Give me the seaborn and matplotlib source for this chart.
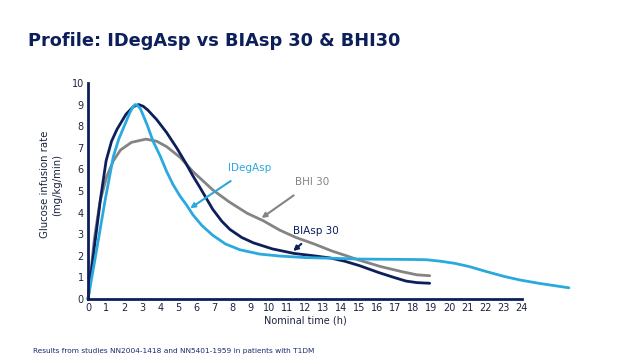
import matplotlib
matplotlib.use("Agg")
import matplotlib.pyplot as plt
import numpy as np
import pandas as pd
import seaborn as sns

# values (hours, mg/kg/min)
idegasp_t = [0, 0.5, 0.95, 1.4, 1.7, 2.05, 2.3, 2.45, 2.6, 2.75, 2.9, 3.25, 3.6, 4.0, 4.35,
             4.7, 5.1, 5.45, 5.8, 6.3, 6.9, 7.6, 8.4, 9.5, 10.6, 12, 13.75, 15, 16.5, 18,
             18.7, 19.5, 20.3, 21.1, 22, 23, 23.9, 25, 25.8, 26.6]
idegasp_v = [0, 2.4, 4.6, 6.6, 7.4, 8.1, 8.6, 8.85, 9.0, 8.95, 8.8, 8.1, 7.3, 6.6, 5.9,
             5.3, 4.75, 4.35, 3.9, 3.4, 2.95, 2.55, 2.28, 2.08, 1.99, 1.92, 1.88, 1.85, 1.84,
             1.83, 1.82, 1.75, 1.65, 1.5, 1.28, 1.05, 0.88, 0.72, 0.62, 0.52]

biasp_t = [0, 0.35, 0.7, 1.0, 1.3, 1.6, 2.1, 2.5, 2.8, 3.05, 3.3, 3.8, 4.35, 4.9, 5.4, 5.8,
           6.2, 6.9, 7.4, 7.85, 8.5, 9.15, 10.2, 11.4, 12.5, 13.4, 14.2, 15, 16.1, 17,
           17.6, 18.2, 18.9]
biasp_v = [0, 2.4, 4.7, 6.4, 7.3, 7.85, 8.55, 8.9, 9.0, 8.92, 8.75, 8.3, 7.7, 7.0, 6.3, 5.7,
           5.15, 4.15, 3.6, 3.22, 2.85, 2.6, 2.32, 2.11, 2.0, 1.9, 1.75, 1.55, 1.22, 0.98,
           0.83, 0.76, 0.73]

bhi_t = [0, 0.35, 0.66, 1.03, 1.4, 1.8, 2.4, 3.2, 3.8, 4.35, 5.1, 5.8, 6.9, 7.8, 8.8, 9.7,
         10.6, 11.5, 12.5, 13.5, 14.3, 15, 16.2, 17.4, 18.2, 18.9]
bhi_v = [0, 2.8, 4.5, 5.66, 6.4, 6.9, 7.25, 7.4, 7.3, 7.05, 6.55, 5.9, 5.05, 4.5, 3.97, 3.62,
         3.19, 2.85, 2.55, 2.22, 2.0, 1.8, 1.5, 1.26, 1.12, 1.08]

x_ticks = list(range(0, 25))
y_ticks = list(range(0, 11))

NAVY = "#0c1f5b"
CYAN = "#2aa9df"
GREY = "#848484"
TEXT = "#1c2340"

sns.set_theme(style="white")
plt.rcParams["font.family"] = ["DejaVu Sans"]

fig = plt.figure(figsize=(6.38, 3.59), dpi=100)
ax = fig.add_axes([0.138, 0.167, 0.680, 0.602])

sns.lineplot(x=bhi_t, y=bhi_v, color=GREY, lw=2, ax=ax, sort=False, estimator=None, clip_on=False)
sns.lineplot(x=biasp_t, y=biasp_v, color=NAVY, lw=2, ax=ax, sort=False, estimator=None, clip_on=False)
sns.lineplot(x=idegasp_t, y=idegasp_v, color=CYAN, lw=2, ax=ax, sort=False, estimator=None, clip_on=False)

ax.set_xlim(0, 24)
ax.set_ylim(0, 10)
ax.set_xticks(x_ticks)
ax.set_yticks(y_ticks)
ax.tick_params(length=0, labelsize=7, colors=TEXT, pad=3)
for side in ["top", "right"]:
    ax.spines[side].set_visible(False)
for side in ["left", "bottom"]:
    ax.spines[side].set_color(NAVY)
    ax.spines[side].set_linewidth(2)

ax.set_xlabel("Nominal time (h)", fontsize=7, color=TEXT, labelpad=2)
ax.set_ylabel("Glucose infusion rate\n(mg/kg/min)", fontsize=7.3, color=TEXT)
ax.yaxis.set_label_coords(-0.06, 0.53)

# curve labels with arrows
ax.annotate("IDegAsp", xy=(5.65, 4.2), xytext=(8.95, 6.06), color=CYAN, fontsize=7.5,
            ha="center", va="center",
            arrowprops=dict(arrowstyle="-|>", color=CYAN, lw=1.5, mutation_scale=7,
                            shrinkA=6, shrinkB=0))
ax.annotate("BHI 30", xy=(9.6, 3.75), xytext=(12.4, 5.4), color=GREY, fontsize=7.5,
            ha="center", va="center",
            arrowprops=dict(arrowstyle="-|>", color=GREY, lw=1.5, mutation_scale=7,
                            shrinkA=6, shrinkB=0))
ax.annotate("BIAsp 30", xy=(11.35, 2.22), xytext=(12.6, 3.15), color=NAVY, fontsize=7.5,
            ha="center", va="center",
            arrowprops=dict(arrowstyle="-|>", color=NAVY, lw=1.5, mutation_scale=7,
                            shrinkA=5, shrinkB=0))

fig.text(0.044, 0.885, "Profile: IDegAsp vs BIAsp 30 & BHI30", fontsize=12.8,
         fontweight="bold", color=NAVY, ha="left", va="center")
fig.text(0.052, 0.022, "Results from studies NN2004-1418 and NN5401-1959 in patients with T1DM",
         fontsize=5.3, color="#1a2a6c", ha="left", va="center")

fig.savefig("out.png", dpi=100)
